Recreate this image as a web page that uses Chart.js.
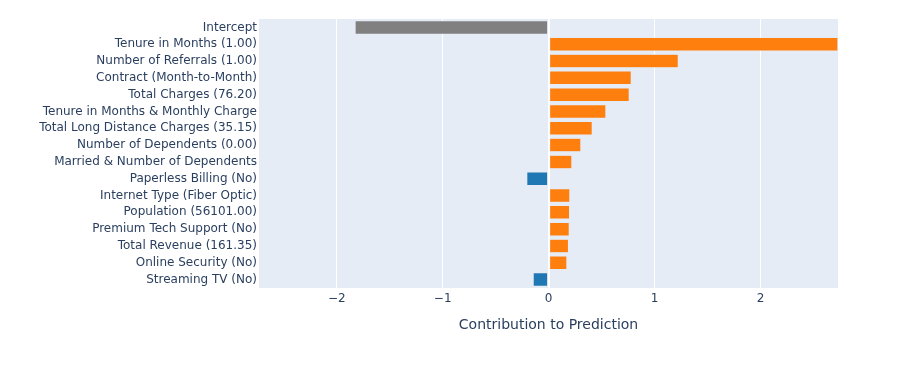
<!DOCTYPE html>
<html>
<head>
<meta charset="utf-8">
<script src="https://cdn.jsdelivr.net/npm/chart.js@4/dist/chart.umd.min.js"></script>
<style>
  html, body { margin: 0; padding: 0; background: #fff; }
  #wrap { width: 918px; height: 370px; }
</style>
</head>
<body>
<div id="wrap"><canvas id="contribChart" width="918" height="370"></canvas></div>
<script>
// feature contributions, top to bottom
const features = [
  'Intercept',
  'Tenure in Months (1.00)',
  'Number of Referrals (1.00)',
  'Contract (Month-to-Month)',
  'Total Charges (76.20)',
  'Tenure in Months & Monthly Charge',
  'Total Long Distance Charges (35.15)',
  'Number of Dependents (0.00)',
  'Married & Number of Dependents',
  'Paperless Billing (No)',
  'Internet Type (Fiber Optic)',
  'Population (56101.00)',
  'Premium Tech Support (No)',
  'Total Revenue (161.35)',
  'Online Security (No)',
  'Streaming TV (No)'
];
const contributions = [-1.827, 2.73, 1.223, 0.779, 0.760, 0.540, 0.411, 0.304, 0.219, -0.206, 0.200, 0.197, 0.194, 0.187, 0.172, -0.146];
const xTicks = [-2, -1, 0, 1, 2];
const xRange = [-2.734, 2.731];

const textColor = '#2a3f5f';
const fontFamily = '"DejaVu Sans", Verdana, sans-serif';

const barColors = contributions.map((v, i) => {
    if (features[i] === 'Intercept') return '#808080';
    return v >= 0 ? '#ff7f0e' : '#1f77b4';
});

const plotBg = {
    id: 'plotBg',
    beforeDraw(chart) {
        const { ctx, chartArea } = chart;
        ctx.save();
        ctx.fillStyle = '#e5ecf6';
        ctx.fillRect(chartArea.left, chartArea.top, chartArea.right - chartArea.left, chartArea.bottom - chartArea.top);
        ctx.restore();
    }
};

document.addEventListener("DOMContentLoaded", () => {
    const ctx = document.getElementById('contribChart').getContext('2d');
    new Chart(ctx, {
        type: 'bar',
        data: {
            labels: features,
            datasets: [{
                data: contributions,
                backgroundColor: barColors,
                borderColor: 'rgba(229, 236, 246, 0.8)',
                borderWidth: 0.5,
                borderSkipped: false,
                barPercentage: 0.8,
                categoryPercentage: 1.0
            }]
        },
        options: {
            indexAxis: 'y',
            responsive: false,
            animation: false,
            events: [],
            layout: { padding: { left: 0, right: 80, top: 19, bottom: 0 } },
            plugins: {
                legend: { display: false },
                tooltip: { enabled: false }
            },
            scales: {
                x: {
                    type: 'linear',
                    min: xRange[0],
                    max: xRange[1],
                    afterBuildTicks: (scale) => {
                        scale.ticks = xTicks.map(v => ({ value: v }));
                    },
                    afterFit: (scale) => { scale.height = 82; },
                    border: { display: false },
                    grid: {
                        color: '#ffffff',
                        lineWidth: (c) => (c.tick && c.tick.value === 0 ? 2 : 1),
                        drawTicks: false
                    },
                    ticks: {
                        padding: 4,
                        color: textColor,
                        font: { family: fontFamily, size: 12 },
                        callback: (v) => (v < 0 ? '\u2212' + Math.abs(v) : String(v))
                    },
                    title: {
                        display: true,
                        text: 'Contribution to Prediction',
                        color: textColor,
                        font: { family: fontFamily, size: 14 },
                        padding: { top: 0, bottom: 36 }
                    }
                },
                y: {
                    afterFit: (scale) => { scale.width = 259; },
                    border: { display: false },
                    grid: { display: false, drawTicks: false },
                    ticks: {
                        padding: 2,
                        color: textColor,
                        font: { family: fontFamily, size: 12 },
                        autoSkip: false
                    }
                }
            }
        },
        plugins: [plotBg]
    });
});
</script>
</body>
</html>
